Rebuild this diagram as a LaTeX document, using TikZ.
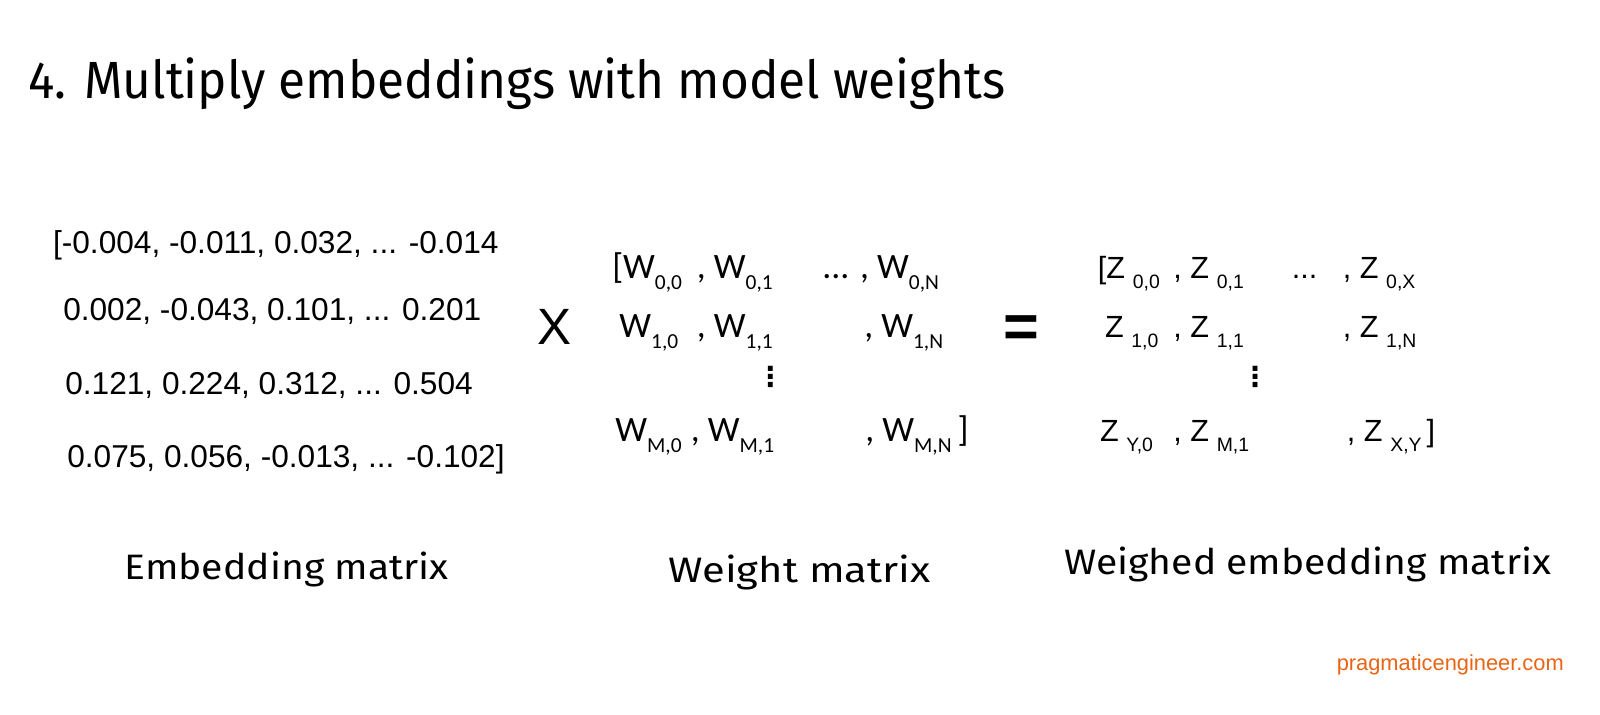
\documentclass[tikz,border=0pt]{standalone}
\usepackage{fontspec}
\setmainfont{Liberation Sans}
\newfontfamily\wfont{Carlito}
\newfontfamily\handfont{Fira Sans}
\newfontfamily\symfont{DejaVu Sans}
\definecolor{pragorange}{RGB}{233,100,20}
\newcommand\wsub[1]{\raisebox{-0.3em}{\fontsize{21}{21}\selectfont #1}}
\newcommand\zsub[1]{\hspace{0.25em}\raisebox{-0.32em}{\fontsize{19}{19}\selectfont #1}}
\begin{document}
\begin{tikzpicture}[x=1pt,y=-1pt,scale=1.0204,
  every node/.style={inner sep=0pt,outer sep=0pt,anchor=base west,transform shape},
  emb/.style={font=\fontsize{31}{31}\selectfont},
  wm/.style={font=\wfont\fontsize{35}{35}\selectfont},
  zm/.style={font=\fontsize{30}{30}\selectfont},
  vd/.style={font=\symfont\bfseries\fontsize{27}{27}\selectfont,anchor=base},
  lab/.style={font=\handfont\fontsize{34}{34}\selectfont},
  op/.style={font=\fontsize{50}{50}\selectfont}]
\useasboundingbox[fill=white] (0,0) rectangle (1568,700.7);
% title
\node[font=\handfont] (title) at (28,97) {\resizebox{957pt}{40pt}{4. Multiply embeddings with model weights}};
% embedding matrix
\node[emb] (e1) at (52,248) {[-0.004, -0.011, 0.032, ... -0.014};
\node[emb] (e2) at (62,314) {0.002, -0.043, 0.101, ... 0.201};
\node[emb] (e3) at (64,387) {0.121, 0.224, 0.312, ... 0.504};
\node[emb] (e4) at (66,458) {0.075, 0.056, -0.013, ... -0.102]};
% operator X
\node[op] (times) at (527,338) {X};
% weight matrix
\node[wm] (w00) at (600,273) {[W\wsub{0,0}};
\node[wm] (w01) at (683,273) {, W\wsub{0,1}};
\node[wm] (wdots) at (806,273) {...};
\node[wm] (w0n) at (843,273) {, W\wsub{0,N}};
\node[wm] (w10) at (607,331) {W\wsub{1,0}};
\node[wm] (w11) at (683,331) {, W\wsub{1,1}};
\node[wm] (w1n) at (847,331) {, W\wsub{1,N}};
\node[vd] (wv) at (755,379) {⋮};
\node[wm] (wm0) at (603,433) {W\wsub{M,0}};
\node[wm] (wm1) at (677,433) {, W\wsub{M,1}};
\node[wm] (wmn) at (848,433) {, W\wsub{M,N}\,]};
% equals
\node[font=\bfseries\fontsize{60}{60}\selectfont] (eq) at (983,341) {=};
% result matrix
\node[zm] (z00) at (1076,273) {[Z\zsub{0,0}};
\node[zm] (z01) at (1150,273) {, Z\zsub{0,1}};
\node[zm] (zdots) at (1266,273) {...};
\node[zm] (z0x) at (1316,273) {, Z\zsub{0,X}};
\node[zm] (z10) at (1083,331) {Z\zsub{1,0}};
\node[zm] (z11) at (1150,331) {, Z\zsub{1,1}};
\node[zm] (z1n) at (1316,331) {, Z\zsub{1,N}};
\node[vd] (zv) at (1230,379) {⋮};
\node[zm] (zy0) at (1078,433) {Z\zsub{Y,0}};
\node[zm] (zm1) at (1150,433) {, Z\zsub{M,1}};
\node[zm] (zxy) at (1320,433) {, Z\zsub{X,Y}\,]};
% labels
\node[lab] (l1) at (122,568) {\resizebox{318pt}{27pt}{Embedding matrix}};
\node[lab] (l2) at (655,571) {\resizebox{257pt}{27pt}{Weight matrix}};
\node[lab] (l3) at (1043,563) {\resizebox{477pt}{27pt}{Weighed embedding matrix}};
% footer
\node[font=\fontsize{21.4}{21}\selectfont,text=pragorange] (src) at (1310,657) {pragmaticengineer.com};
\end{tikzpicture}
\end{document}
